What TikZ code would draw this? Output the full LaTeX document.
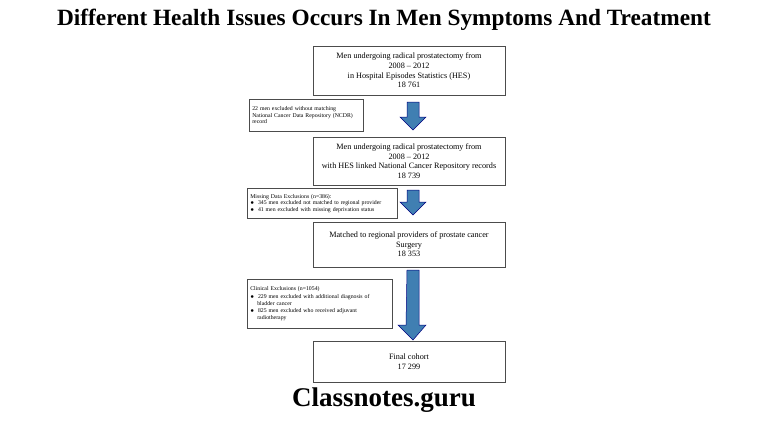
\documentclass[tikz,border=0pt]{standalone}
\usepackage{fontspec}
\setmainfont{Liberation Serif}
\begin{document}
\begin{tikzpicture}[x=1pt,y=-1pt,
  bigbox/.style={draw=black!70,line width=0.6pt,minimum width=192pt,align=center,font=\fontsize{8.2}{9.6}\selectfont,inner sep=0pt},
  smallbox/.style={draw=black!70,line width=0.6pt,align=left,anchor=north west,font=\fontsize{5.8}{6.6}\selectfont,inner sep=0pt,text width=#1},
  blarrow/.style={fill=blue!45!cyan!60!black!75,draw=blue!50!black,line width=0.5pt}]
\useasboundingbox (0,0) rectangle (768,424);
\node[font=\bfseries\fontsize{23.3}{26}\selectfont] (title) at (384,20) {Different Health Issues Occurs In Men Symptoms And Treatment};
\node[font=\bfseries\fontsize{27}{30}\selectfont] (brand) at (384,400) {Classnotes.guru};
\node[bigbox,minimum height=49pt] (b1) at (409,70.5) {Men undergoing radical prostatectomy from\\2008 -- 2012\\in Hospital Episodes Statistics (HES)\\18 761};
\node[bigbox,minimum height=48pt] (b2) at (409,161) {Men undergoing radical prostatectomy from\\2008 -- 2012\\with HES linked National Cancer Repository records\\18 739};
\node[bigbox,minimum height=45pt] (b3) at (409,244.5) {Matched to regional providers of prostate cancer\\Surgery\\18 353};
\node[bigbox,minimum height=41pt] (b4) at (409,361.5) {Final cohort\\17 299};
\node[smallbox=114pt,minimum height=32pt] (s1) at (249,99) {\hspace{3pt}\begin{minipage}{110pt}22 men excluded without matching\\National Cancer Data Repository (NCDR)\\record\end{minipage}};
\node[smallbox=150pt,minimum height=30pt] (s2) at (247,188) {\hspace{3pt}\begin{minipage}{146pt}Missing Data Exclusions (n=386):\\$\bullet$\ \ 345 men excluded not matched to regional provider\\$\bullet$\ \ 41 men excluded with missing deprivation status\end{minipage}};
\node[smallbox=145pt,minimum height=49pt] (s3) at (247,279) {\hspace{3pt}\begin{minipage}{140pt}Clinical Exclusions (n=1054)\\[1pt]
$\bullet$\ \ 229 men excluded with additional diagnosis of\\\hspace*{7pt}bladder cancer\\[1pt]
$\bullet$\ \ 825 men excluded who received adjuvant\\\hspace*{7pt}radiotherapy\end{minipage}};
\coordinate (a1) at (413,102);
\coordinate (a2) at (413,190);
\coordinate (a3) at (413,270);
\draw[blarrow] (a1) ++(-6,0) -- ++(12,0) -- ++(0,15) -- ++(7,0) -- (413,130) -- ++(-13,-13) -- ++(7,0) -- cycle;
\draw[blarrow] (a2) ++(-6,0) -- ++(12,0) -- ++(0,12) -- ++(7,0) -- (413,215) -- ++(-13,-13) -- ++(7,0) -- cycle;
\draw[blarrow] (a3) ++(-6,0) -- ++(12,0) -- ++(0,55) -- ++(7,0) -- (413,340) -- ++(-15,-15) -- ++(8,0) -- cycle;
\end{tikzpicture}
\end{document}
